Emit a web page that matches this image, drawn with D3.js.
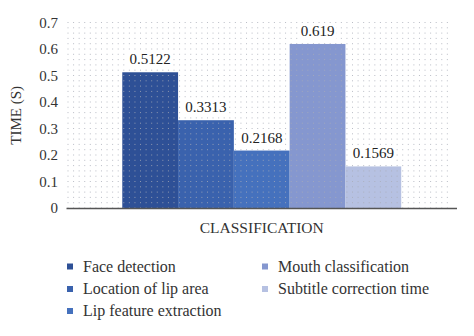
<!DOCTYPE html>
<html><head><meta charset="utf-8">
<script src="https://cdn.jsdelivr.net/npm/d3@7"></script>
<style>body{margin:0;background:#fff}svg{display:block}</style>
</head><body>
<script>
const categories = ["Face detection","Location of lip area","Lip feature extraction","Mouth classification","Subtitle correction time"];
const values = [0.5122,0.3313,0.2168,0.619,0.1569];
const labels = ["0.5122","0.3313","0.2168","0.619","0.1569"];
const colors = ["#2e5096","#3a62ad","#4571bd","#8597cf","#b6c1e2"];
const yTicks = [0,0.1,0.2,0.3,0.4,0.5,0.6,0.7];
const yTickLabels = ["0","0.1","0.2","0.3","0.4","0.5","0.6","0.7"];

(function(){
const W=474,H=336;
const svg=d3.select("body").append("svg").attr("width",W).attr("height",H);
const font="'Liberation Serif','Times New Roman',serif";
const pLeft=66.5,pRight=457,pTop=22.5,pBottom=208;
const y=d3.scaleLinear().domain([0,0.7]).range([pBottom,pTop]);
const slots=["_a",...categories,"_b"];
const x=d3.scaleBand().domain(slots).range([pLeft,pRight]).padding(0);

const rows=d3.range(0,0.7001,0.02);
const bw=x.bandwidth();
const cols=d3.range(pLeft+1,452,bw/10);
const dots=[];
rows.forEach(r=>cols.forEach(c=>dots.push([c,y(r)])));
svg.append("g").selectAll("rect").data(categories).join("rect")
 .attr("x",d=>x(d)).attr("width",bw)
 .attr("y",(d,i)=>y(values[i])).attr("height",(d,i)=>pBottom-y(values[i]))
 .attr("fill",(d,i)=>colors[i]);
svg.append("g").selectAll("rect").data(dots).join("rect")
 .attr("x",d=>d[0]).attr("y",d=>d[1]-0.5).attr("width",1).attr("height",1)
 .attr("fill","#a9adb8").attr("opacity",0.8);

const lg=svg.append("g");
categories.forEach((c,i)=>{
  const cx=x(c)+bw/2, by=y(values[i])-8;
  const t=lg.append("text").attr("x",cx).attr("y",by).attr("text-anchor","middle")
   .attr("font-family",font).attr("font-size",15).attr("fill","#222").text(labels[i]);
  const bb=t.node().getBBox();
  lg.insert("rect","text").attr("x",bb.x-2).attr("y",bb.y+1).attr("width",bb.width+4).attr("height",bb.height).attr("fill","#fff");
});

svg.append("line").attr("x1",pLeft).attr("x2",pRight).attr("y1",pBottom+0.5).attr("y2",pBottom+0.5)
 .attr("stroke","#555").attr("stroke-width",1.5);

svg.append("g").selectAll("text").data(yTicks).join("text")
 .attr("x",58).attr("y",d=>y(d)+5).attr("text-anchor","end")
 .attr("font-family",font).attr("font-size",15).attr("fill","#333")
 .text((d,i)=>yTickLabels[i]);

svg.append("text").attr("transform",`translate(21,${(pTop+pBottom)/2}) rotate(-90)`)
 .attr("text-anchor","middle").attr("font-family",font).attr("font-size",15).attr("fill","#333").text("TIME (S)");
svg.append("text").attr("x",(pLeft+pRight)/2).attr("y",233).attr("text-anchor","middle")
 .attr("font-family",font).attr("font-size",15.5).attr("fill","#333").text("CLASSIFICATION");

const legPos=[[67,266.5],[67,289],[67,311],[262,266.5],[262,289]];
categories.forEach((c,i)=>{
  const [lx,ly]=legPos[i];
  svg.append("rect").attr("x",lx).attr("y",ly-3).attr("width",6).attr("height",6).attr("fill",colors[i]);
  svg.append("text").attr("x",lx+16).attr("y",ly+5).attr("font-family",font).attr("font-size",16).attr("fill","#333").text(c);
});
})();
</script>
</body></html>
